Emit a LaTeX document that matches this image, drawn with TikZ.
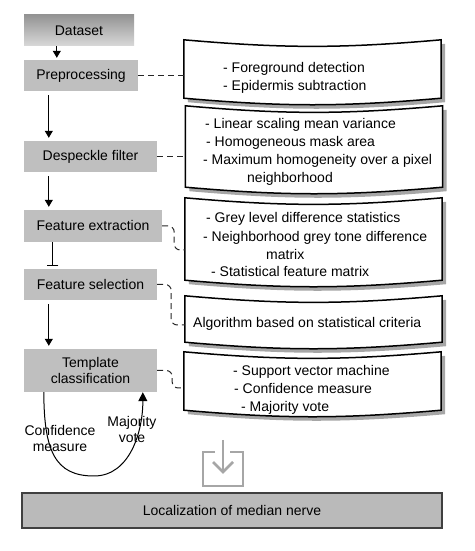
\documentclass[tikz,border=0pt]{standalone}
\usepackage{fontspec}
\setmainfont{Liberation Sans}
\usetikzlibrary{arrows.meta, positioning}

% curved note box with a drop shadow, drawn round an empty node
\newcommand{\notebox}[1]{%
  \begin{scope}[transform canvas={xshift=4pt, yshift=-4pt}]
    \fill[black!35] (#1.north west) to[bend right=5] (#1.north east) -- (#1.south east) to[bend left=5] (#1.south west) -- cycle;
  \end{scope}
  \draw[line width=1.5pt, fill=white] (#1.north west) to[bend right=5] (#1.north east) -- (#1.south east) to[bend left=5] (#1.south west) -- cycle;}

\begin{document}
\begin{tikzpicture}[x=1pt, y=1pt,
  stage/.style={fill=black!25, inner sep=0pt, minimum height=31pt, align=center, font=\fontsize{14}{16}\selectfont},
  note/.style={inner sep=0pt, minimum width=257pt},
  notetext/.style={anchor=west, inner sep=0pt, align=left, font=\fontsize{14}{18}\selectfont},
  flow/.style={line width=1pt, -{Triangle[width=8pt,length=7pt]}, shorten <=4pt, shorten >=3pt},
  link/.style={black!85, line width=1pt, dash pattern=on 6pt off 4pt, rounded corners=6pt}]
\useasboundingbox (0,0) rectangle (474,551);

% left column
\node[stage, top color=black!42, bottom color=black!15, minimum width=110pt] (data) at (79,520.5) {Dataset};
\node[stage, minimum width=114pt] (prep) at (81,475.5) {Preprocessing};
\node[stage, minimum width=133pt] (desp) at (90.5,394.5) {Despeckle filter};
\node[stage, minimum width=138pt, minimum height=32pt] (feat) at (93,325) {Feature extraction};
\node[stage, minimum width=133pt] (sel) at (90.5,266.5) {Feature selection};
\node[stage, minimum width=133pt, minimum height=43pt] (templ) at (90.5,180.5) {Template\\classification};

\draw[flow, shorten <=0pt, shorten >=2pt] ([xshift=33]data.south west) -- ([xshift=33]prep.north west);
\draw[flow] ([xshift=25]prep.south west) -- ([xshift=25]desp.north west);
\draw[flow] ([xshift=25]desp.south west) -- ([xshift=25]feat.north west);
\draw[line width=1pt, -{Bar[width=11pt]}, shorten >=3pt] ([xshift=29]feat.south west) -- ([xshift=29]sel.north west);
\draw[flow] ([xshift=25]sel.south west) -- ([xshift=25]templ.north west);

% loop under the classifier
\draw[line width=1pt, -{Triangle[width=9pt,length=9pt]}] ([xshift=20]templ.south west) .. controls (44,100) and (55,75) .. (94,75) .. controls (130,75) and (143,120) .. ([xshift=119]templ.south west);
\node[align=center, inner sep=0pt, font=\fontsize{14}{16}\selectfont] (conf) at (60,113) {Confidence\\measure};
\node[align=center, inner sep=0pt, font=\fontsize{14}{16}\selectfont] (maj) at (132,122) {Majority\\vote};

% right column
\node[note, minimum height=58pt] (n1) at (312.5,482) {};
\node[note, minimum height=81pt] (n2) at (314,404.5) {};
\node[note, minimum height=82pt] (n3) at (313.5,312) {};
\node[note, minimum height=46pt] (n4) at (313.5,232) {};
\node[note, minimum height=58pt] (n5) at (312.5,170) {};
\notebox{n1}
\notebox{n2}
\notebox{n3}
\notebox{n4}
\notebox{n5}

\node[notetext] (t1) at (223,473) {- Foreground detection\\- Epidermis subtraction};
\node[notetext] (t2) at (203,399.5) {\hspace*{2pt}- Linear scaling mean variance\\\hspace*{3pt}- Homogeneous mask area\\- Maximum homogeneity over a pixel\\\hspace*{44pt}neighborhood};
\node[notetext] (t3) at (203,306) {\hspace*{3pt}- Grey level difference statistics\\- Neighborhood grey tone difference\\\hspace*{63pt}matrix\\\hspace*{8pt}- Statistical feature matrix};
\node[notetext] (t4) at (193,227) {Algorithm based on statistical criteria};
\node[notetext] (t5) at (233,161) {- Support vector machine\\\hspace*{1pt}- Confidence measure\\\hspace*{8pt}- Majority vote};

\draw[link] (prep.east) -- (prep.east -| n1.west);
\draw[link] (desp.east) -- (desp.east -| n2.west);
\draw[link] (feat.east) -- ++(12,0) |- ([yshift=-11]n3.west);
\draw[link] (sel.east) -- ++(14,0) |- ([yshift=-6]n4.west);
\draw[link] (templ.east) -- ++(15,0) |- ([yshift=-7]n5.west);

% output icon and result
\draw[black!35, line width=2.5pt] (215,99) -| (203,65) -| (243,99) -- (230,99);
\draw[black!35, line width=2.5pt] (223,111) -- (223,79);
\draw[black!35, line width=2.5pt] (213,89) -- (223,79) -- (233,89);
\node[fill=black!27, draw=black!75, line width=1.5pt, minimum width=420pt, minimum height=35pt, font=\fontsize{14}{16}\selectfont] (loc) at (232,40.5) {Localization of median nerve};
\end{tikzpicture}
\end{document}
